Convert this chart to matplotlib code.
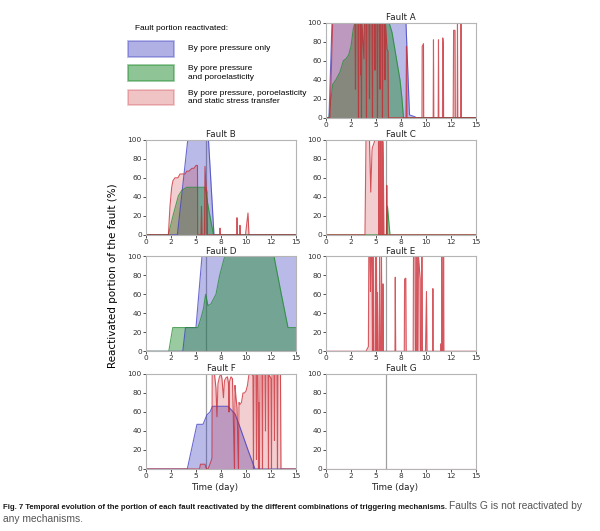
import matplotlib
matplotlib.use("Agg")
import matplotlib.pyplot as plt
from matplotlib.patches import Rectangle
from matplotlib.ticker import FormatStrFormatter

# ---- data (time in days, reactivated portion in %) ----
A_blue_t = [0, 0.3, 0.6, 8.0, 8.35, 8.9, 9.0, 15]
A_blue_v = [0, 0, 100, 100, 3, 1, 0, 0]
A_green_t = [0, 0.3, 0.67, 1.0, 1.4, 1.74, 2.0, 2.27, 2.5, 2.74, 2.9, 6.31, 6.6, 7.0, 7.4, 7.6, 7.75, 15]
A_green_v = [0, 0, 35, 40, 48, 60, 62, 66, 75, 94, 100, 100, 90, 65, 40, 20, 0, 0]
A_red_t = [0, 0.4, 0.67, 2.9, 2.95, 3.0, 3.2, 3.25, 3.3, 3.45, 3.47, 3.5, 3.55, 3.6, 3.8, 3.85, 4.0,
           4.05, 4.1, 4.3, 4.35, 4.4, 4.6, 4.65, 4.7, 4.85, 4.9, 4.95, 5.1, 5.15, 5.2, 5.35, 5.4, 5.45,
           5.6, 5.65, 5.7, 5.85, 5.9, 5.95, 6.1, 6.2, 6.25, 8.0, 8.05, 8.1, 9.6, 9.62, 9.75, 9.77,
           10.72, 10.75, 10.78, 11.22, 11.25, 11.28, 11.65, 11.68, 11.74, 11.76, 12.72, 12.76, 12.9,
           12.93, 13.12, 13.15, 13.18, 13.47, 13.5, 13.53, 15]
A_red_v = [0, 0, 100, 100, 30, 100, 100, 0, 100, 100, 45, 100, 0, 100, 62, 100, 100,
           0, 100, 100, 20, 100, 100, 0, 100, 100, 50, 100, 100, 0, 100, 100, 30, 100,
           100, 0, 100, 100, 40, 100, 72, 70, 0, 0, 75, 0, 0, 75, 78, 0,
           0, 82, 0, 0, 82, 0, 0, 84, 76, 0, 0, 92, 92,
           0, 0, 100, 0, 0, 100, 0, 0]

B_blue_t = [0, 3.14, 4.18, 6.25, 6.8, 15]
B_blue_v = [0, 0, 100, 100, 0, 0]
B_green_t = [0, 2.24, 2.7, 3.24, 3.6, 4.08, 5.9, 6.3, 6.75, 15]
B_green_v = [0, 0, 20, 41, 47, 50, 50, 25, 0, 0]
B_red_t = [0, 2.24, 2.4, 2.57, 2.7, 2.9, 3.2, 3.4, 3.9, 4.08, 4.3, 4.6, 4.8, 5.0, 5.15, 5.17,
           5.5, 5.55, 5.6, 5.85, 5.9, 6.0, 6.1, 6.15, 7.35, 7.4, 7.45, 9.05, 9.1, 9.15,
           9.35, 9.4, 9.45, 9.95, 10.2, 10.3, 15]
B_red_v = [0, 0, 30, 50, 57, 60, 60, 64, 64, 67, 67, 70, 70, 73, 73, 0,
           0, 30, 0, 0, 72, 50, 45, 0, 0, 7, 0, 0, 18, 0,
           0, 10, 0, 0, 23, 0, 0]

C_blue_t = [0, 15]
C_blue_v = [0, 0]
C_green_t = [0, 6.05, 6.15, 6.4, 15]
C_green_v = [0, 0, 30, 0, 0]
C_red_t = [0, 3.9, 4.0, 4.35, 4.48, 4.6, 4.64, 4.75, 4.9, 5.25, 5.3, 5.35, 5.45, 5.5, 5.55,
           5.65, 5.68, 5.72, 5.8, 6.05, 6.08, 6.12, 15]
C_red_v = [0, 0, 100, 100, 45, 88, 92, 95, 100, 100, 0, 100, 100, 0, 100,
           100, 0, 98, 0, 0, 52, 0, 0]

D_blue_t = [0, 3.68, 3.95, 5.0, 5.6, 15]
D_blue_v = [0, 0, 25, 25, 100, 100]
D_green_t = [0, 2.28, 2.68, 5.2, 5.5, 5.75, 5.96, 6.2, 6.5, 7.0, 7.37, 7.87, 12.8, 13.5, 14.2, 15]
D_green_v = [0, 0, 25, 25, 35, 45, 60, 48, 50, 60, 80, 100, 100, 62, 25, 25]
D_red_t = [0, 15]
D_red_v = [0, 0]

E_blue_t = [0, 15]
E_blue_v = [0, 0]
E_red_t = [0, 4.0, 4.24, 4.28, 4.4, 4.45, 4.5, 4.6, 4.65, 4.7, 4.75, 4.9, 4.95, 5.0, 5.05, 5.1,
           5.15, 5.2, 5.33, 5.36, 5.4, 5.5, 5.55, 5.6, 5.66, 5.7, 5.74, 6.9, 6.93, 6.97,
           7.83, 7.86, 7.98, 8.02, 8.72, 8.75, 8.92, 8.95, 9.06, 9.09, 9.13, 9.2, 9.25, 9.42,
           9.45, 9.56, 9.59, 9.63, 9.95, 10.05, 10.1, 10.66, 10.69, 10.72, 11.45, 11.5, 11.56,
           11.59, 11.62, 11.73, 11.76, 11.79, 15]
E_red_v = [0, 0, 5, 100, 100, 63, 100, 100, 0, 100, 0, 0, 100, 0, 100, 0,
           62, 0, 0, 100, 0, 0, 100, 0, 0, 71, 0, 0, 78, 0,
           0, 76, 77, 0, 0, 100, 100, 0, 0, 100, 0, 0, 100, 76,
           0, 0, 100, 0, 0, 63, 0, 0, 66, 0, 0, 8, 0,
           100, 0, 0, 100, 0, 0]

F_blue_t = [0, 4.13, 5.1, 5.7, 6.1, 6.4, 6.65, 8.2, 8.9, 9.4, 10.2, 10.9, 15]
F_blue_v = [0, 0, 47, 47, 57, 60, 66, 66, 58, 44, 20, 0, 0]
F_red_t = [0, 5.35, 5.45, 5.9, 6.05, 6.2, 6.5, 6.6, 6.62, 6.85, 7.0, 7.1, 7.2, 7.35, 7.5, 7.6,
           7.75, 7.85, 8.0, 8.15, 8.25, 8.3, 8.35, 8.5, 8.65, 8.85, 8.9, 9.0, 9.1, 9.25, 9.3,
           9.4, 9.55, 9.7, 9.85, 10.0, 10.15, 10.3, 10.55, 10.7, 10.75, 10.8, 11.0, 11.05, 11.1,
           11.2, 11.25, 11.3, 11.35, 11.4, 11.6, 11.65, 11.7, 11.9, 11.95, 12.0, 12.2, 12.25,
           12.3, 12.5, 12.55, 12.6, 12.8, 12.85, 12.9, 13.1, 13.15, 13.2, 13.45, 13.5, 15]
F_red_v = [0, 0, 5, 5, 0, 0, 8, 12, 100, 100, 85, 55, 90, 97, 100, 95,
           75, 93, 96, 97, 90, 60, 92, 97, 95, 0, 88, 75, 65, 0, 70,
           68, 70, 80, 80, 82, 88, 100, 100, 98, 0, 100, 100, 10, 100,
           100, 0, 70, 0, 100, 100, 0, 100, 100, 40, 100, 100, 0,
           100, 95, 0, 100, 100, 30, 100, 100, 0, 100, 100, 0, 0]

G_red_t = [0, 15]
G_red_v = [0, 0]

x_ticks = [0, 2.5, 5, 7.5, 10, 12.5, 15]
y_ticks = [0, 20, 40, 60, 80, 100]
t_trigger = 6.0

BLUE, GREEN, RED = "#3a3ac0", "#1f8a2e", "#c8232c"

fig = plt.figure(figsize=(6, 5.31), dpi=100)

W, H = 0.25, 0.1789
xl, xr = 0.2433, 0.5433
rows = [0.7783, 0.5578, 0.3384, 0.1168]

panels = [
    ("A", xr, rows[0], [(A_blue_t, A_blue_v, BLUE), (A_green_t, A_green_v, GREEN), (A_red_t, A_red_v, RED)], False),
    ("B", xl, rows[1], [(B_blue_t, B_blue_v, BLUE), (B_green_t, B_green_v, GREEN), (B_red_t, B_red_v, RED)], True),
    ("C", xr, rows[1], [(C_blue_t, C_blue_v, BLUE), (C_green_t, C_green_v, GREEN), (C_red_t, C_red_v, RED)], True),
    ("D", xl, rows[2], [(D_blue_t, D_blue_v, BLUE), (D_green_t, D_green_v, GREEN), (D_red_t, D_red_v, RED)], True),
    ("E", xr, rows[2], [(E_blue_t, E_blue_v, BLUE), (E_red_t, E_red_v, RED)], True),
    ("F", xl, rows[3], [(F_blue_t, F_blue_v, BLUE), (F_red_t, F_red_v, RED)], True),
    ("G", xr, rows[3], [(G_red_t, G_red_v, RED)], True),
]

alphas = {BLUE: 0.35, GREEN: 0.45, RED: 0.22}

for name, x0, y0, series, show_line in panels:
    ax = fig.add_axes([x0, y0, W, H])
    if show_line:
        ax.axvline(t_trigger, color="#a0a0a0", lw=0.9, zorder=0.5)
    for t, v, c in series:
        ax.fill_between(t, v, color=c, alpha=alphas[c], lw=0)
        ax.plot(t, v, color=c, lw=0.8, alpha=0.75)
    ax.set_xlim(0, 15)
    ax.set_ylim(0, 100)
    ax.set_xticks(x_ticks)
    ax.set_yticks(y_ticks)
    ax.xaxis.set_major_formatter(FormatStrFormatter("%.0f"))
    ax.tick_params(labelsize=5.3, length=2, width=0.6, pad=1, colors="#333333")
    for s in ax.spines.values():
        s.set_color("#b5b5b5")
        s.set_linewidth(0.8)
    ax.set_title("Fault " + name, fontsize=6.3, pad=2, color="#222222")

# legend drawn by hand, as in the figure
leg = [(BLUE, 0.8932, "By pore pressure only"),
       (GREEN, 0.848, "By pore pressure\nand poroelasticity"),
       (RED, 0.8017, "By pore pressure, poroelasticity\nand static stress transfer")]
lfont = ["Liberation Sans Narrow", "Liberation Sans"]
fig.text(0.2245, 0.9467, "Fault portion reactivated:", fontsize=6, family=lfont, va="center")
for c, yb, lab in leg:
    fig.patches.append(Rectangle((0.2138, yb), 0.0767, 0.0296, transform=fig.transFigure,
                                 facecolor=c, alpha=alphas[c] + 0.05, edgecolor=c, lw=1.2))
    fig.text(0.3128, yb + 0.0148, lab, fontsize=6, family=lfont, va="center", linespacing=1.3)

fig.text(113 / 600, 1 - 276 / 531, "Reactivated portion of the fault (%)", rotation=90,
         fontsize=7.5, ha="center", va="center")
for x0 in (xl, xr):
    fig.text(x0 + W / 2 - 0.01, 1 - 488 / 531, "Time (day)", fontsize=6.3, ha="center",
             va="center", color="#222222")

# caption
cfont = ["Liberation Sans Narrow", "Liberation Sans"]
y_cap = 1 - 509 / 531
bold = fig.text(3 / 600, y_cap,
                "Fig. 7 Temporal evolution of the portion of each fault reactivated by the different "
                "combinations of triggering mechanisms.",
                fontsize=5.6, fontweight="bold", family=cfont, va="baseline", color="#1a1a1a")
fig.canvas.draw()
bb = bold.get_window_extent().transformed(fig.transFigure.inverted())
fig.text(bb.x1 + 0.004, y_cap, "Faults G is not reactivated by",
         fontsize=7.4, family=cfont, va="baseline", color="#555555")
fig.text(3 / 600, 1 - 522 / 531, "any mechanisms.", fontsize=7.4, family=cfont, va="baseline",
         color="#555555")

fig.savefig("out.png", dpi=100)
